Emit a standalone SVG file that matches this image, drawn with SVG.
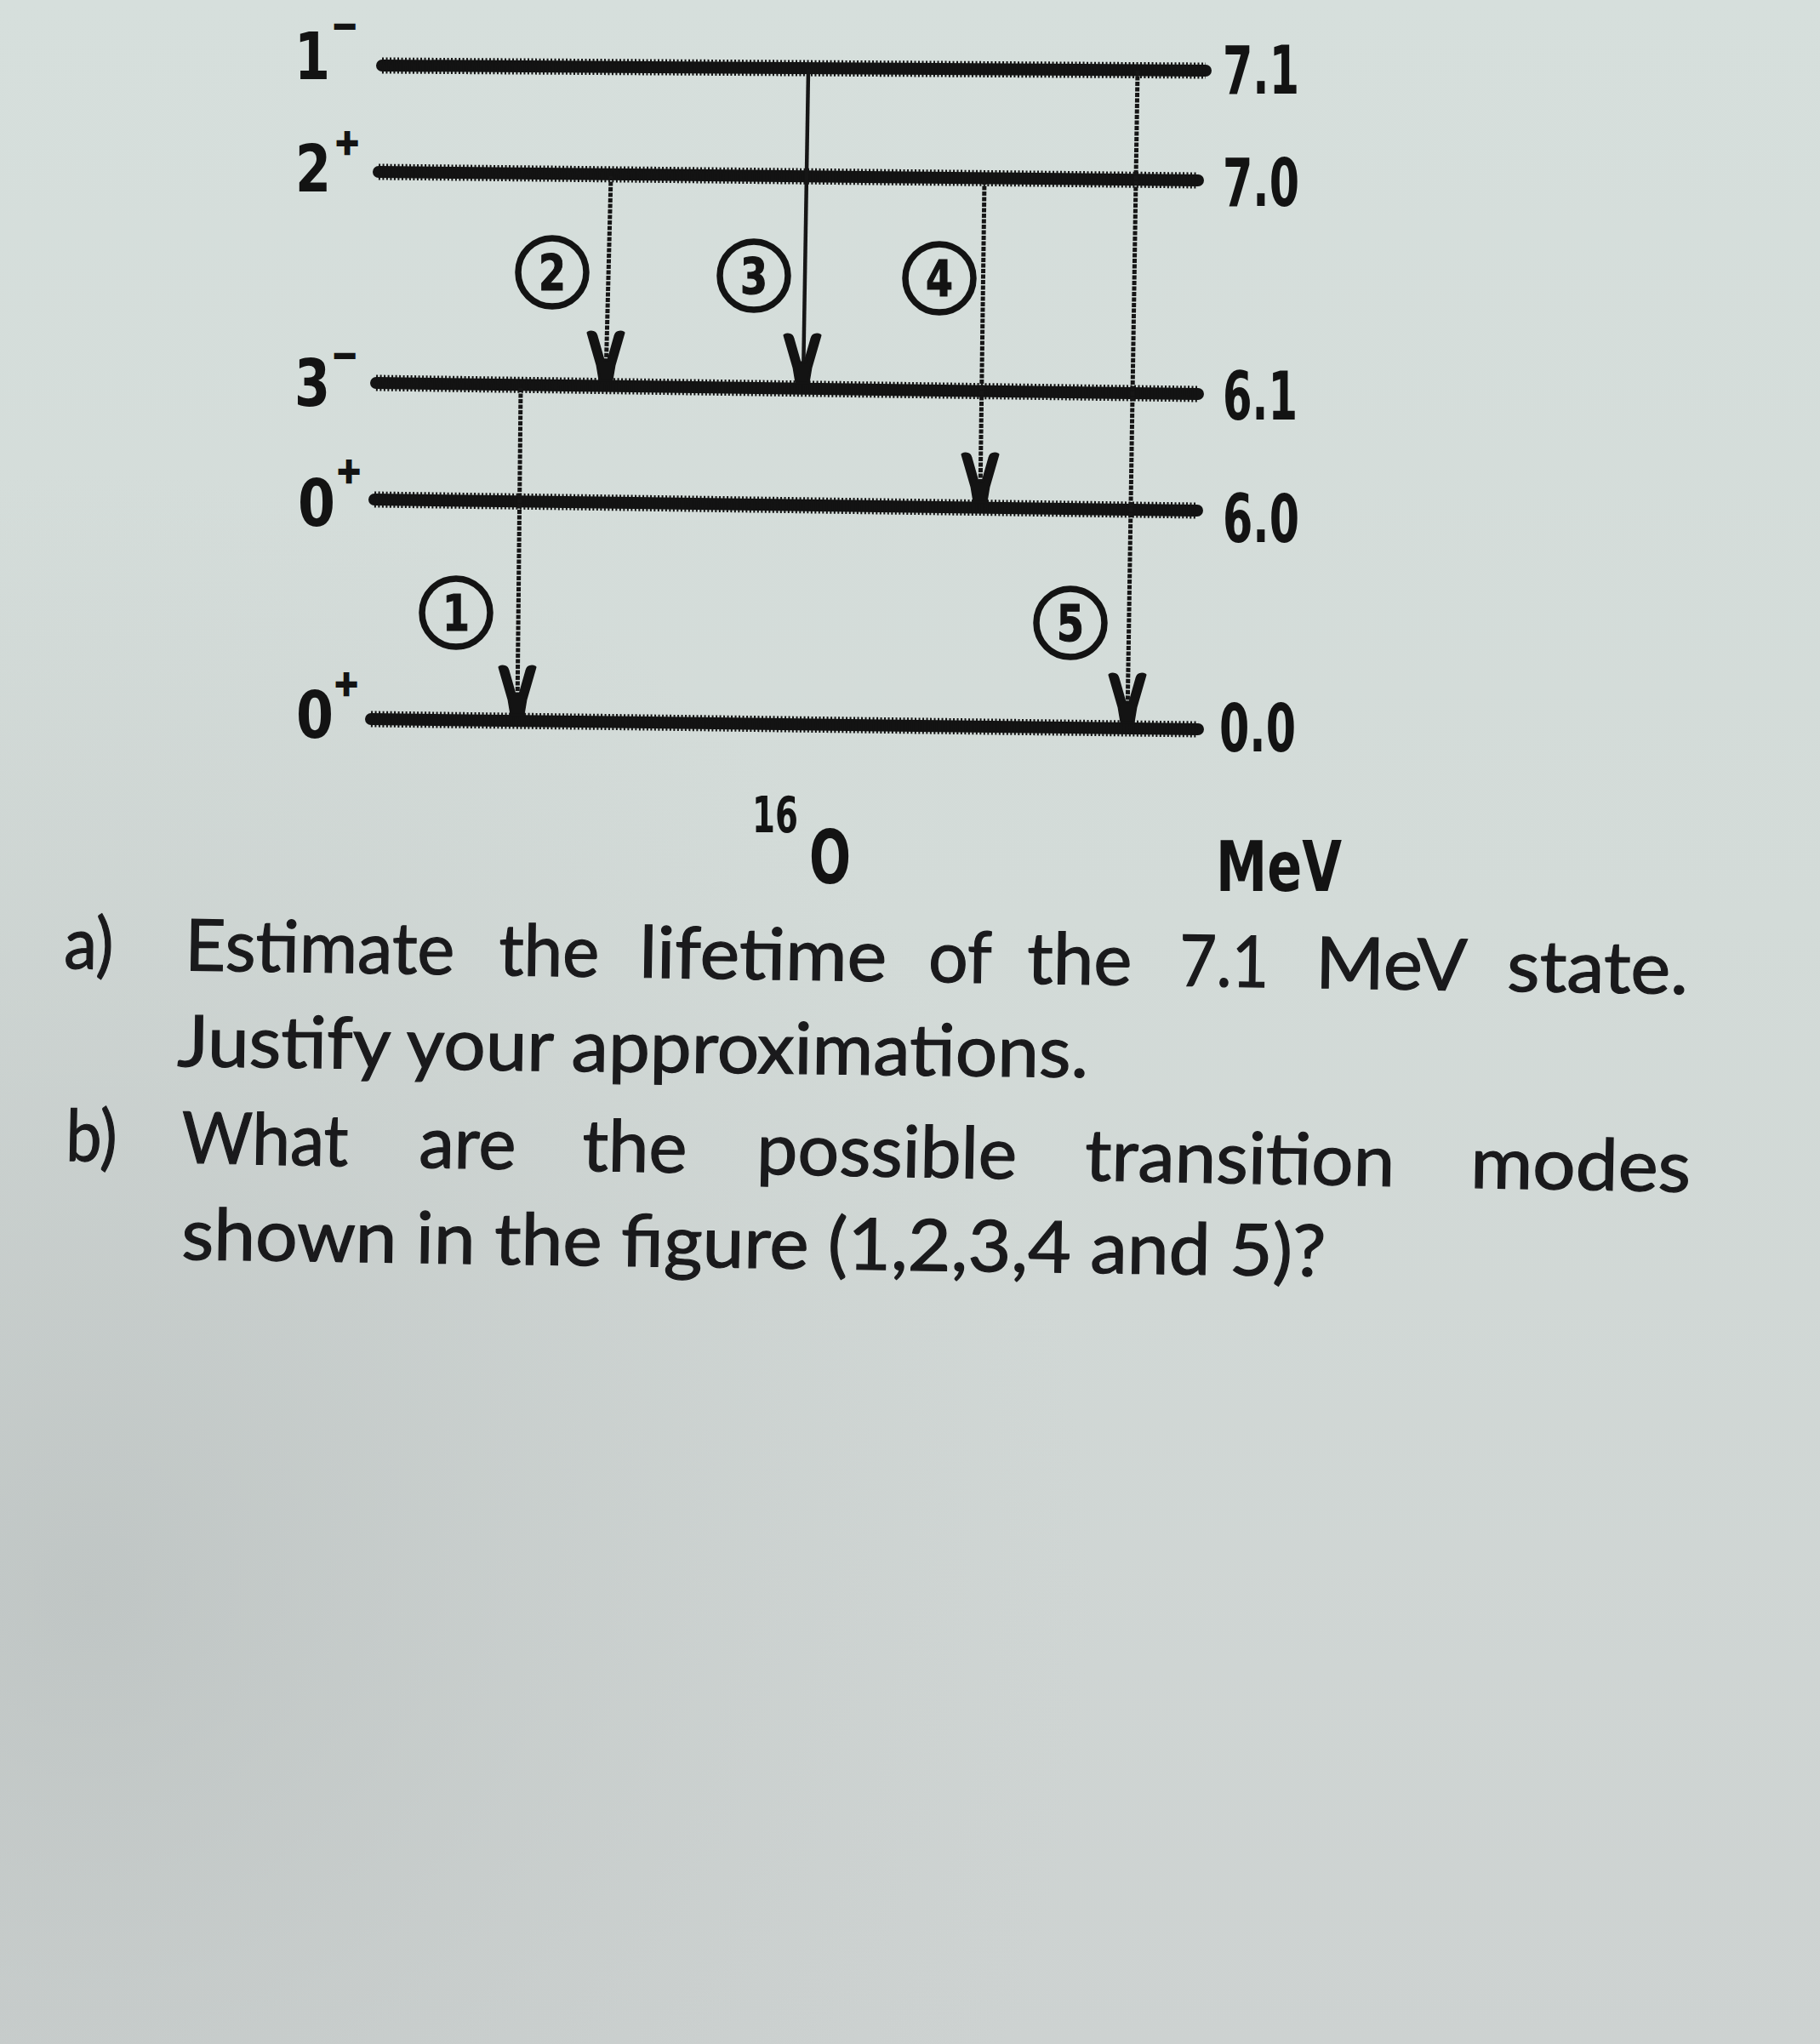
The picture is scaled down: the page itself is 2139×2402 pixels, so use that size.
<svg xmlns="http://www.w3.org/2000/svg" xmlns:xlink="http://www.w3.org/1999/xlink" width="2139" height="2402" viewBox="0 0 2139 2402">
  <defs>
    <linearGradient id="paper" x1="0" y1="0" x2="0" y2="1">
      <stop offset="0" stop-color="#d6dfdc"/>
      <stop offset="0.45" stop-color="#d3dbd8"/>
      <stop offset="1" stop-color="#cdd2d1"/>
    </linearGradient>
    <radialGradient id="shade" cx="0.05" cy="0.78" r="0.55">
      <stop offset="0" stop-color="#b9bfbe" stop-opacity="0.7"/>
      <stop offset="1" stop-color="#c4c9c8" stop-opacity="0"/>
    </radialGradient>
    <path id="ah" d="M -21,-56 C -17,-58 -12,-57 -11,-52 L -3,-24 L 3,-24 L 11,-52 C 12,-57 17,-58 21,-56 L 10,-18 L 7,0 L -7,0 L -10,-18 Z"/>
    <style>
      .lvl{stroke:#131313;stroke-width:14;stroke-linecap:round;fill:none}
      .lvlt{stroke:#131313;stroke-width:19;stroke-dasharray:2 2.5;fill:none}
      .tr{stroke:#161616;stroke-width:4.5;fill:none}
      .trw{stroke:#161616;stroke-width:5;stroke-dasharray:5 1.5;fill:none}
      .ah{fill:#131313;stroke:#131313;stroke-width:3;stroke-linejoin:round}
      .dia{font-family:"DejaVu Sans Condensed","DejaVu Sans",sans-serif;font-weight:bold;fill:#131313}
      .spin{font-size:76px}
      .sup{font-size:40px;stroke:#131313;stroke-width:2.5}
      .en{font-size:78px}
      .circ{fill:none;stroke:#131313;stroke-width:7.5}
      .cnum{font-size:58px;stroke:#131313;stroke-width:1}
      .q{font-family:Lato,"Open Sans","Liberation Sans",sans-serif;font-size:84px;fill:#1a1a1c;stroke:#1a1a1c;stroke-width:1.2}
    </style>
  </defs>

  <rect x="0" y="0" width="2139" height="2402" fill="url(#paper)"/>
  <rect x="0" y="0" width="2139" height="2402" fill="url(#shade)"/>

  <g id="level-7.1">
    <line class="lvl" x1="449" y1="77" x2="1417" y2="83"/>
    <line class="lvlt" x1="449" y1="77" x2="1417" y2="83"/>
    <text class="dia spin" x="346" y="93" textLength="42" lengthAdjust="spacingAndGlyphs">1</text>
    <text class="dia sup" x="405" y="44" text-anchor="middle">−</text>
    <text class="dia en" x="1437" y="110" textLength="90" lengthAdjust="spacingAndGlyphs">7.1</text>
  </g>

  <g id="level-7.0">
    <line class="lvl" x1="445" y1="202" x2="1408" y2="212"/>
    <line class="lvlt" x1="445" y1="202" x2="1408" y2="212"/>
    <text class="dia spin" x="347" y="225" textLength="42" lengthAdjust="spacingAndGlyphs">2</text>
    <text class="dia sup" x="408" y="181" text-anchor="middle">+</text>
    <text class="dia en" x="1437" y="242" textLength="90" lengthAdjust="spacingAndGlyphs">7.0</text>
  </g>

  <g id="level-6.1">
    <line class="lvl" x1="442" y1="450" x2="1408" y2="463"/>
    <line class="lvlt" x1="442" y1="450" x2="1408" y2="463"/>
    <text class="dia spin" x="346" y="477" textLength="42" lengthAdjust="spacingAndGlyphs">3</text>
    <text class="dia sup" x="405" y="431" text-anchor="middle">−</text>
    <text class="dia en" x="1437" y="493" textLength="88" lengthAdjust="spacingAndGlyphs">6.1</text>
  </g>

  <g id="level-6.0">
    <line class="lvl" x1="440" y1="587" x2="1407" y2="600"/>
    <line class="lvlt" x1="440" y1="587" x2="1407" y2="600"/>
    <text class="dia spin" x="350" y="618" textLength="44" lengthAdjust="spacingAndGlyphs">0</text>
    <text class="dia sup" x="410" y="567" text-anchor="middle">+</text>
    <text class="dia en" x="1437" y="637" textLength="90" lengthAdjust="spacingAndGlyphs">6.0</text>
  </g>

  <g id="level-0.0">
    <line class="lvl" x1="436" y1="845" x2="1408" y2="857"/>
    <line class="lvlt" x1="436" y1="845" x2="1408" y2="857"/>
    <text class="dia spin" x="348" y="867" textLength="44" lengthAdjust="spacingAndGlyphs">0</text>
    <text class="dia sup" x="407" y="817" text-anchor="middle">+</text>
    <text class="dia en" x="1433" y="883" textLength="90" lengthAdjust="spacingAndGlyphs">0.0</text>
  </g>

  <g id="connectors">
    <g id="t1">
      <path class="trw" d="M 612 456 L 608 838"/>
      <use href="#ah" class="ah" transform="translate(608,840)"/>
    </g>
    <g id="t2">
      <path class="trw" d="M 718 207 L 712 445"/>
      <use href="#ah" class="ah" transform="translate(712,447)"/>
    </g>
    <g id="t3">
      <path class="tr" d="M 950 82 L 944 448"/>
      <use href="#ah" class="ah" transform="translate(943,450)"/>
    </g>
    <g id="t4">
      <path class="trw" d="M 1157 212 L 1152 588"/>
      <use href="#ah" class="ah" transform="translate(1152,590)"/>
    </g>
    <g id="t5">
      <path class="trw" d="M 1337 83 L 1325 847"/>
      <use href="#ah" class="ah" transform="translate(1325,849)"/>
    </g>
  </g>

  <g id="label-1">
    <circle class="circ" cx="536" cy="720" r="40"/>
    <text class="dia cnum" x="520" y="741" textLength="32" lengthAdjust="spacingAndGlyphs">1</text>
  </g>
  <g id="label-2">
    <circle class="circ" cx="649" cy="320" r="40"/>
    <text class="dia cnum" x="633" y="341" textLength="32" lengthAdjust="spacingAndGlyphs">2</text>
  </g>
  <g id="label-3">
    <circle class="circ" cx="886" cy="324" r="40"/>
    <text class="dia cnum" x="870" y="345" textLength="32" lengthAdjust="spacingAndGlyphs">3</text>
  </g>
  <g id="label-4">
    <circle class="circ" cx="1104" cy="327" r="40"/>
    <text class="dia cnum" x="1088" y="348" textLength="32" lengthAdjust="spacingAndGlyphs">4</text>
  </g>
  <g id="label-5">
    <circle class="circ" cx="1258" cy="732" r="40"/>
    <text class="dia cnum" x="1242" y="753" textLength="32" lengthAdjust="spacingAndGlyphs">5</text>
  </g>

  <g id="caption">
    <text class="dia" x="884" y="978" font-size="58" textLength="54" lengthAdjust="spacingAndGlyphs">16</text>
    <text class="dia" x="951" y="1038" font-size="88" textLength="49" lengthAdjust="spacingAndGlyphs">O</text>
    <text class="dia" x="1429" y="1047" font-size="82" textLength="148" lengthAdjust="spacingAndGlyphs">MeV</text>
  </g>

  <g id="question">
    <text class="q" transform="rotate(0.9 75 1138)" y="1138">
      <tspan x="75" textLength="58" lengthAdjust="spacingAndGlyphs">a)</tspan>
      <tspan x="217" textLength="317" lengthAdjust="spacingAndGlyphs">Estimate</tspan>
      <tspan x="586" textLength="118" lengthAdjust="spacingAndGlyphs">the</tspan>
      <tspan x="751" textLength="291" lengthAdjust="spacingAndGlyphs">lifetime</tspan>
      <tspan x="1091" textLength="73" lengthAdjust="spacingAndGlyphs">of</tspan>
      <tspan x="1207" textLength="123" lengthAdjust="spacingAndGlyphs">the</tspan>
      <tspan x="1386" textLength="105" lengthAdjust="spacingAndGlyphs">7.1</tspan>
      <tspan x="1546" textLength="175" lengthAdjust="spacingAndGlyphs">MeV</tspan>
      <tspan x="1771" textLength="213" lengthAdjust="spacingAndGlyphs">state.</tspan>
    </text>
    <text class="q" transform="rotate(0.7 208 1253)" x="208" y="1253" textLength="1071" lengthAdjust="spacingAndGlyphs">Justify your approximations.</text>
    <text class="q" transform="rotate(1.1 77 1364)" y="1364">
      <tspan x="77" textLength="60" lengthAdjust="spacingAndGlyphs">b)</tspan>
      <tspan x="213" textLength="196" lengthAdjust="spacingAndGlyphs">What</tspan>
      <tspan x="492" textLength="114" lengthAdjust="spacingAndGlyphs">are</tspan>
      <tspan x="684" textLength="123" lengthAdjust="spacingAndGlyphs">the</tspan>
      <tspan x="889" textLength="306" lengthAdjust="spacingAndGlyphs">possible</tspan>
      <tspan x="1275" textLength="364" lengthAdjust="spacingAndGlyphs">transition</tspan>
      <tspan x="1728" textLength="259" lengthAdjust="spacingAndGlyphs">modes</tspan>
    </text>
    <text class="q" transform="rotate(0.85 213 1480)" x="213" y="1480" textLength="1345" lengthAdjust="spacingAndGlyphs">shown in the figure (1,2,3,4 and 5)?</text>
  </g>
</svg>
